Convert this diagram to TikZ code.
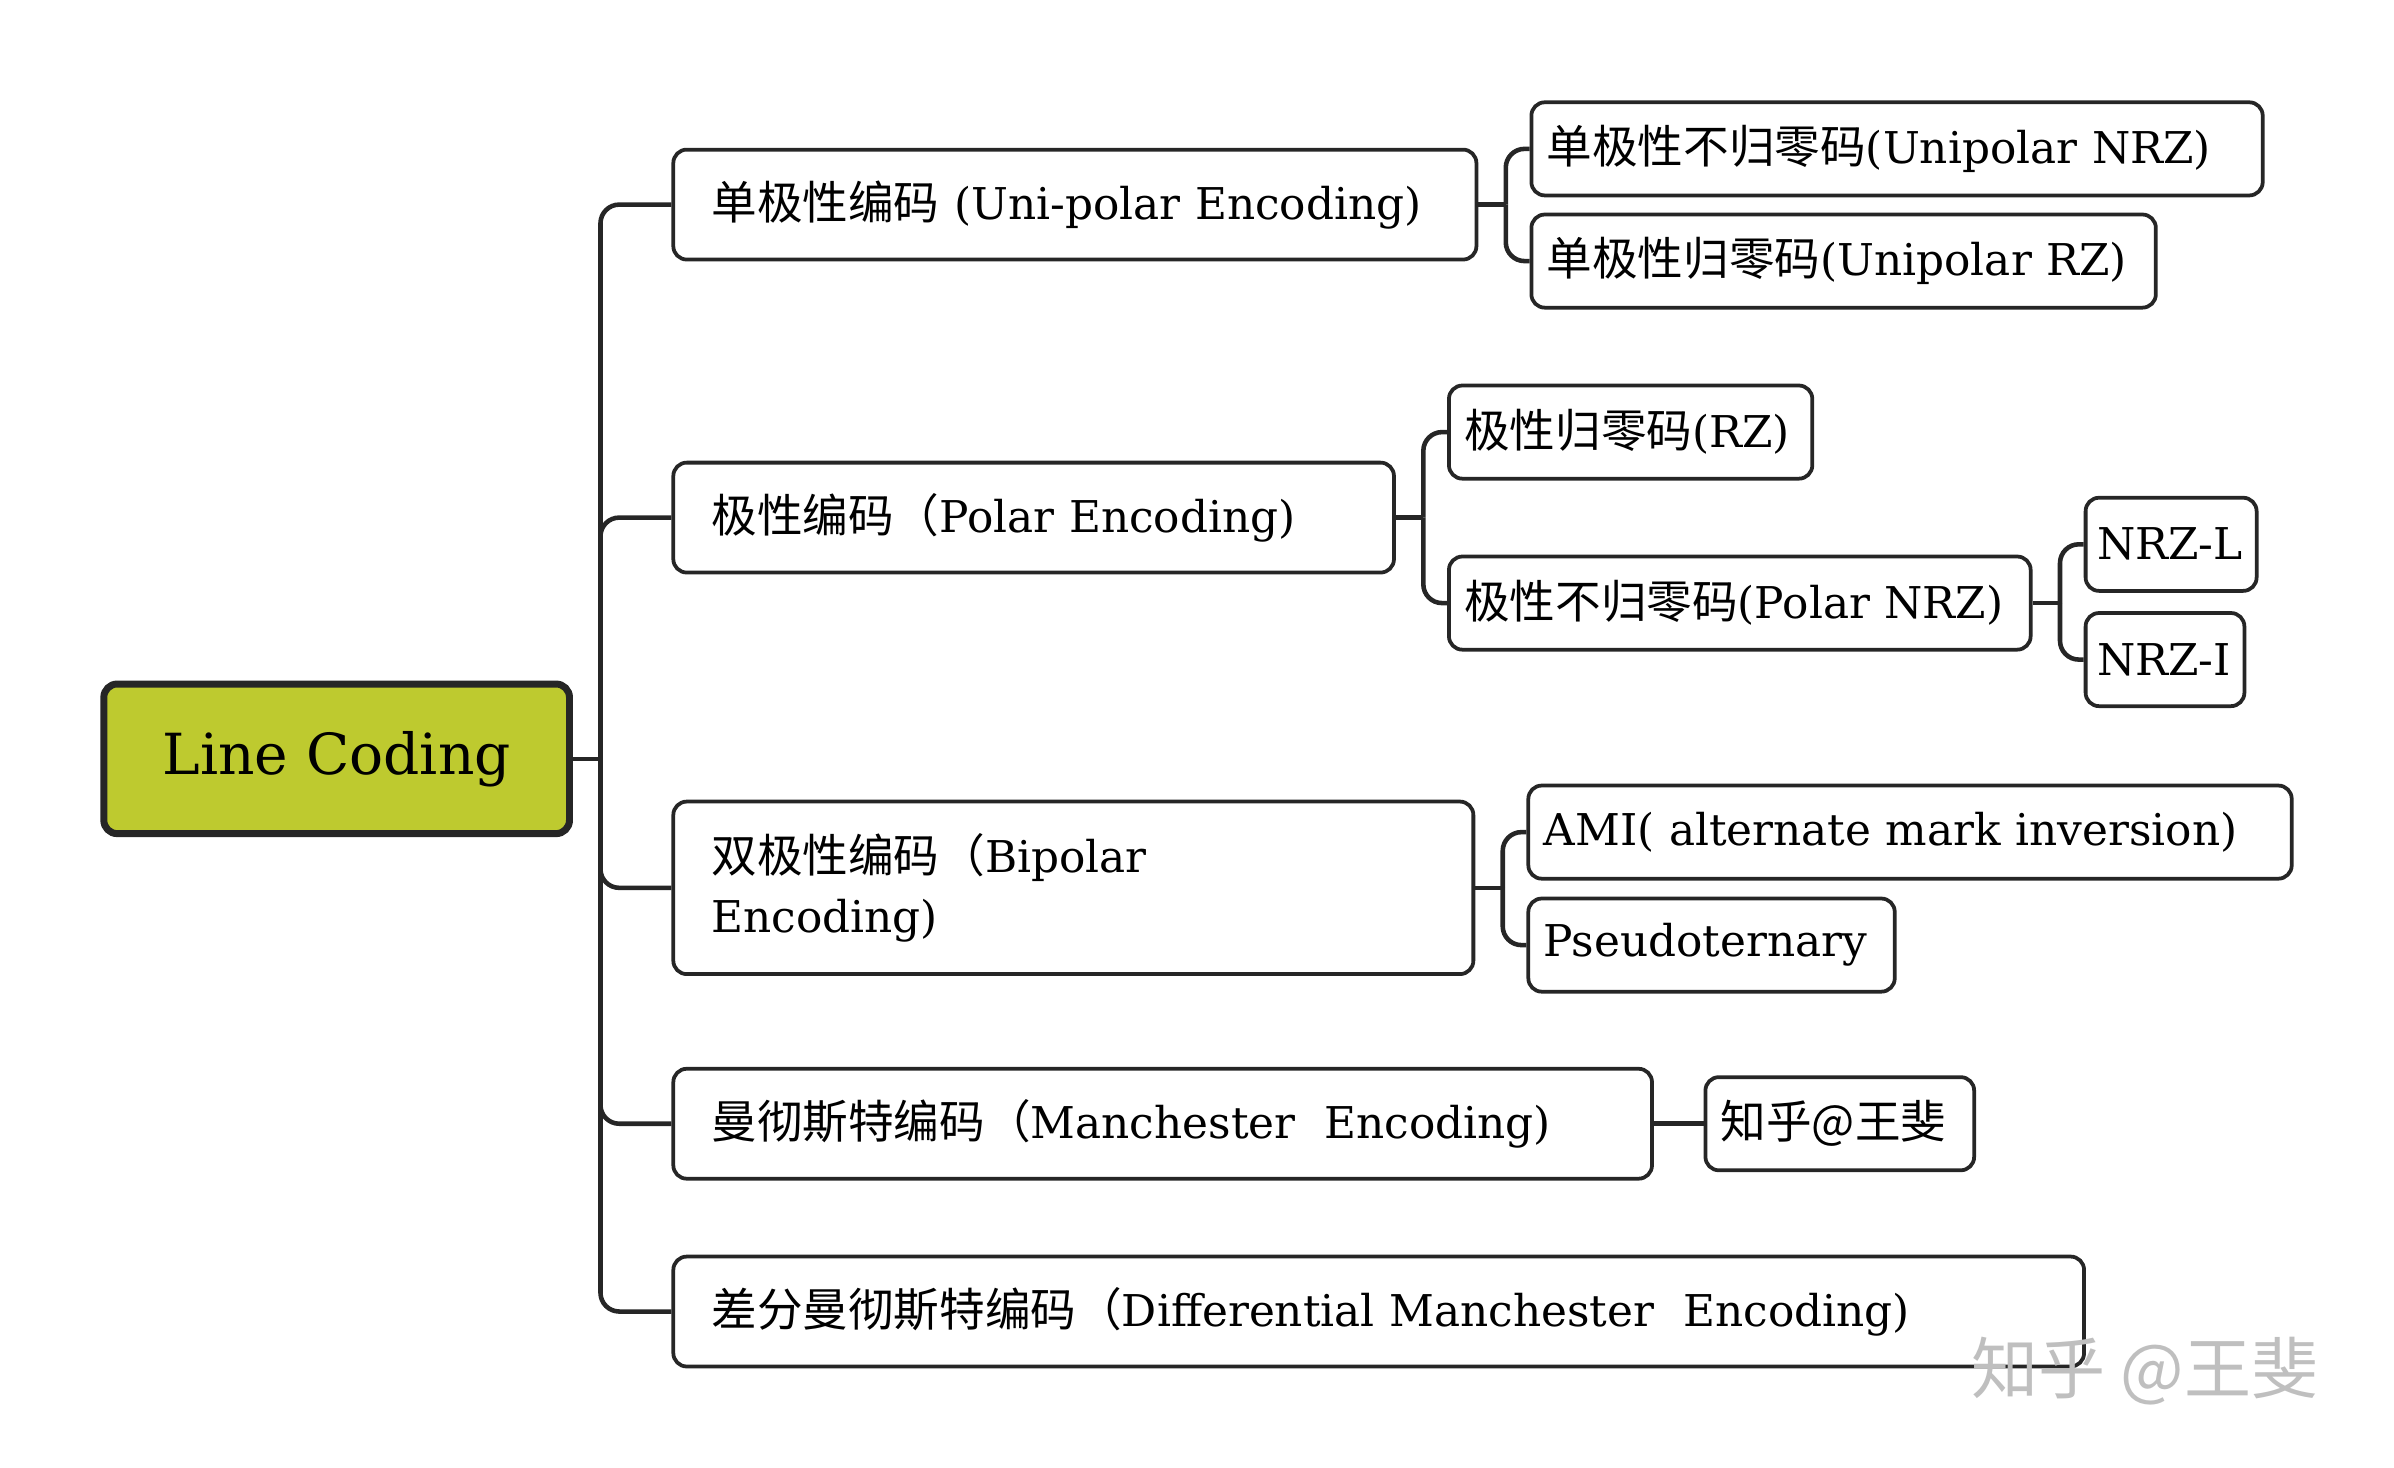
\documentclass[tikz,border=0pt]{standalone}
\usepackage{fontspec}
\setmainfont[Scale=0.96]{DejaVu Serif}
\newfontfamily\cjk{Noto Sans CJK SC}
\newcommand\zh[1]{{\cjk #1}}
\begin{document}
\begin{tikzpicture}[
  box/.style={draw=black!85, line width=1.4pt, rounded corners=5pt, fill=white, align=left, font=\fontsize{17}{22}\selectfont, inner ysep=2pt},
  lbox/.style={box, inner xsep=0.5cm, minimum height=1.44cm},
  sbox/.style={box, inner xsep=0.2cm, minimum height=1.22cm},
  con/.style={draw=black!85, line width=1.7pt, rounded corners=7pt}
]
\useasboundingbox (0,0) rectangle (31.36,-19.22);
\node[draw=black!85, line width=2.6pt, rounded corners=5pt, fill={rgb,255:red,190;green,202;blue,47}, minimum width=6.1cm, minimum height=1.96cm, font=\fontsize{22}{26}\selectfont] (R) at (4.41,-9.94) {Line Coding};
\node[lbox, text width=9.52cm] (A) at (14.08,-2.68) {\zh{单极性编码} (Uni-polar Encoding)};
\node[lbox, text width=8.44cm] (B) at (13.54,-6.78) {\zh{极性编码（}Polar Encoding)};
\node[lbox, text width=9.48cm, minimum height=2.26cm] (C) at (14.06,-11.63) {\zh{双极性编码（}Bipolar\\Encoding)};
\node[lbox, text width=11.82cm] (D) at (15.23,-14.72) {\zh{曼彻斯特编码（}Manchester\ \ Encoding)};
\node[lbox, text width=17.48cm] (E) at (18.06,-17.18) {\zh{差分曼彻斯特编码（}Differential Manchester\ \ Encoding)};
\node[sbox, text width=9.18cm] (A1) at (24.85,-1.95) {\zh{单极性不归零码}(Unipolar NRZ)};
\node[sbox, text width=7.78cm] (A2) at (24.15,-3.42) {\zh{单极性归零码}(Unipolar RZ)};
\node[sbox, text width=4.36cm] (B1) at (21.36,-5.66) {\zh{极性归零码}(RZ)};
\node[sbox, text width=7.22cm] (B2) at (22.79,-7.90) {\zh{极性不归零码}(Polar NRZ)};
\node[sbox, inner xsep=0.15cm, text width=1.94cm] (N1) at (28.44,-7.13) {\mbox{NRZ-L}};
\node[sbox, inner xsep=0.15cm, text width=1.78cm] (N2) at (28.36,-8.64) {\mbox{NRZ-I}};
\node[sbox, text width=9.6cm] (C1) at (25.02,-10.90) {AMI( alternate mark inversion)};
\node[sbox, text width=4.4cm] (C2) at (22.42,-12.38) {Pseudoternary};
\node[sbox, text width=3.12cm] (D1) at (24.10,-14.72) {\zh{知乎@王斐}};
% trunk
\draw[con] (R.east) -- ++(0.36,0) coordinate (t);
\foreach \n in {A,B,C,D,E}{ \draw[con] (t) |- (\n.west); }
% A
\draw[con] (A.east) -- ++(0.36,0) coordinate (a);
\draw[con] (a) |- (A1.west); \draw[con] (a) |- (A2.west);
% B
\draw[con] (B.east) -- ++(0.36,0) coordinate (b);
\draw[con] (b) |- (B1.west); \draw[con] (b) |- (B2.west);
\draw[con] (B2.east) -- ++(0.36,0) coordinate (b2);
\draw[con] (b2) |- (N1.west); \draw[con] (b2) |- (N2.west);
% C
\draw[con] (C.east) -- ++(0.36,0) coordinate (c);
\draw[con] (c) |- (C1.west); \draw[con] (c) |- (C2.west);
% D
\draw[con] (D.east) -- (D1.west);
\node[text=black!25, font=\cjk\fontsize{25}{28}\selectfont] (W) at (28.1,-17.96) {知乎 @王斐};
\end{tikzpicture}
\end{document}
